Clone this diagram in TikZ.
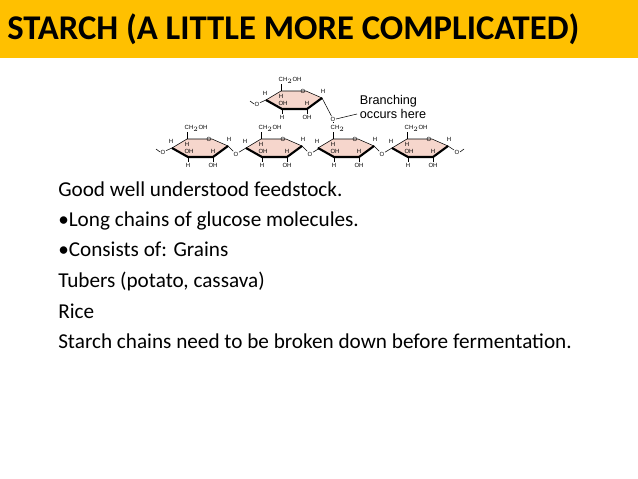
\documentclass[tikz,border=0pt]{standalone}
\usepackage{fontspec}
\setmainfont{Carlito}
\newfontfamily\labelfont{Liberation Sans}
\usetikzlibrary{positioning}
\definecolor{titlegold}{RGB}{255,192,0}
\definecolor{ringpink}{RGB}{246,214,204}
\tikzset{
	atom/.style={font=\labelfont\fontsize{4.5}{5}\selectfont, inner sep=0.3pt},
	bodyline/.style={anchor=base west, font=\fontsize{15.9}{17}\selectfont, inner sep=0pt},
	pics/glucose/.style={code={
		\draw[fill=ringpink, line width=0.4pt] (0,0) -- (15,-9) -- (40,-9) -- (56,-2) -- (41,9) -- (16,9) -- cycle;
		\draw[line width=1.6pt] (0,0) -- (16,9) -- (41,9) -- (56,-2);
		\draw (15,-9) -- (15,-16);
		\node[atom, anchor=west] at (12,-20) {#1};
		\node[atom] at (37,-9) {O};
		\node[atom] at (-1,-7) {H};
		\node[atom] at (15,-4) {H};
		\node[atom] at (57,-9) {H};
		\node[atom] at (17,3) {OH};
		\node[atom] at (41,3) {H};
		\draw (16,9) -- (16,14); \node[atom] at (16,17) {H};
		\draw (41,9) -- (41,14); \node[atom] at (41,17) {OH};
	}}
}
\begin{document}
\begin{tikzpicture}[x=0.75pt, y=-0.75pt]
	\useasboundingbox (0,0) rectangle (638,478);
	\fill[white] (0,0) rectangle (638,478);
	\fill[titlegold] (0,0) rectangle (638,58);
	\node[anchor=west, font=\bfseries\fontsize{26}{27}\selectfont, inner sep=0pt] (title) at (7,29) {STARCH (A LITTLE MORE COMPLICATED)};
	% chain of glucose units
	\foreach \x [count=\i] in {172,246,318,392} {
		\ifnum\i=3
			\pic (ring\i) at (\x,148) {glucose={CH$_2$}};
		\else
			\pic (ring\i) at (\x,148) {glucose={CH$_2$OH}};
		\fi
	}
	\pic (ringtop) at (266,100) {glucose={CH$_2$OH}};
	% glycosidic links
	\foreach \x in {228,302,374} {
		\node[atom] (link\x) at (\x+8,154) {O};
		\draw (\x,146) -- (link\x);
		\draw (link\x) -- (\x+18,148);
	}
	\node[atom] (endleft) at (163,152) {O};
	\draw (endleft) -- (172,148);
	\draw (endleft.west) -- ++(-4,-3);
	\node[atom] (endright) at (457,152) {O};
	\draw (448,146) -- (endright);
	\draw (endright.east) -- ++(4,-3);
	\node[atom] (topleft) at (257,104) {O};
	\draw (topleft) -- (266,100);
	\draw (topleft.west) -- ++(-4,-3);
	% branch point
	\node[atom] (branch) at (333,119) {O};
	\draw (322,98) -- (branch);
	\draw (branch) -- (333,123);
	\node[font=\labelfont\fontsize{9.5}{10.5}\selectfont, align=left, inner sep=0pt] (note) at (393,107) {Branching\\occurs here};
	\draw (357,114) -- (branch.east);
	% text
	\node[bodyline] (l1) at (58,196) {Good well understood feedstock.};
	\node[bodyline] (l2) at (58,226) {•Long chains of glucose molecules.};
	\node[bodyline] (l3) at (58,256) {•Consists of: Grains};
	\node[bodyline] (l4) at (58,287) {Tubers (potato, cassava)};
	\node[bodyline] (l5) at (58,318) {Rice};
	\node[bodyline] (l6) at (58,348) {Starch chains need to be broken down before fermentation.};
\end{tikzpicture}
\end{document}
